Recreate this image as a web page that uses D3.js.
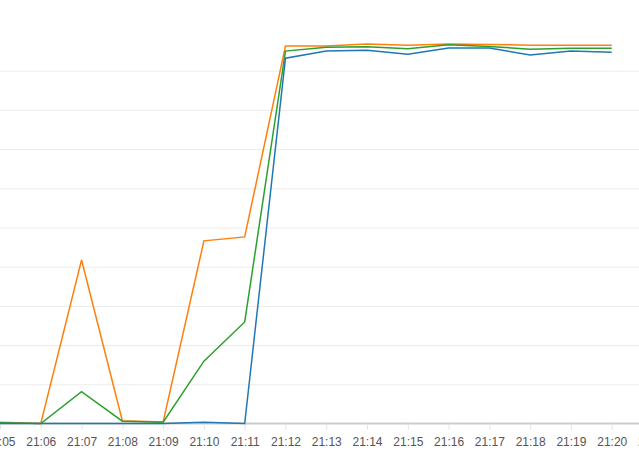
<!DOCTYPE html>
<html>
<head>
<meta charset="utf-8">
<script src="https://cdn.jsdelivr.net/npm/d3@7"></script>
<style>
  body { margin: 0; background: #fff; }
  svg { display: block; overflow: hidden; }
</style>
</head>
<body>
<script>
// minute labels of the samples
var times = ["21:05","21:06","21:07","21:08","21:09","21:10","21:11","21:12",
             "21:13","21:14","21:15","21:16","21:17","21:18","21:19","21:20"];

var orangeValues = [0.3, 0, 41.7, 0.7, 0.4, 46.6, 47.6, 96.3, 96.3, 96.8, 96.5, 96.8, 96.7, 96.5, 96.5, 96.5];
var greenValues  = [0.2, 0, 8.1, 0.6, 0.35, 15.9, 25.9, 95.0, 96.0, 96.1, 95.6, 96.6, 96.2, 95.5, 95.7, 95.7];
var blueValues   = [0, 0, 0, 0, 0, 0.35, 0, 93.2, 95.0, 95.2, 94.2, 95.8, 95.8, 94.0, 95.0, 94.7];

var gridValues = [10, 20, 30, 40, 50, 60, 70, 80, 90];

var series = [
  { name: "orange", color: "#ff7f0e", values: orangeValues },
  { name: "green",  color: "#2ca02c", values: greenValues },
  { name: "blue",   color: "#1f77b4", values: blueValues }
];

var width = 639, height = 460;
var parse = d3.timeParse("%H:%M");

var svg = d3.select("body").append("svg")
  .attr("width", width)
  .attr("height", height);

var x = d3.scaleTime()
  .domain([parse("21:05"), parse("21:21")])
  .range([0, 652.5]);

var y = d3.scaleLinear()
  .domain([0, 100])
  .range([423.5, 31.5]);

// horizontal grid
svg.append("g")
  .attr("class", "grid")
  .call(d3.axisLeft(y).tickValues(gridValues).tickSize(-width).tickFormat(""))
  .call(function (g) { g.select(".domain").remove(); })
  .selectAll("line")
  .attr("stroke", "#ebebeb")
  .attr("stroke-width", 1);

// x axis
var xAxis = svg.append("g")
  .attr("transform", "translate(0," + y(0) + ")")
  .call(d3.axisBottom(x)
    .ticks(d3.timeMinute.every(1))
    .tickSize(6)
    .tickSizeOuter(0)
    .tickFormat(d3.timeFormat("%H:%M")));

xAxis.select(".domain")
  .attr("d", "M0,0H" + width)
  .attr("stroke", "#cccccc")
  .attr("stroke-width", 2);
xAxis.selectAll(".tick line")
  .attr("stroke", "#e2e2e2");
xAxis.selectAll(".tick text")
  .attr("fill", "#555")
  .attr("dy", "1.15em")
  .style("font-family", "Arial, 'Liberation Sans', sans-serif")
  .style("font-size", "12px");

var line = d3.line()
  .x(function (d, i) { return x(parse(times[i])); })
  .y(function (d) { return y(d); });

svg.selectAll("path.series")
  .data(series)
  .enter()
  .append("path")
  .attr("class", "series")
  .attr("fill", "none")
  .attr("stroke", function (d) { return d.color; })
  .attr("stroke-width", 1.5)
  .attr("d", function (d) { return line(d.values); });
</script>
</body>
</html>
